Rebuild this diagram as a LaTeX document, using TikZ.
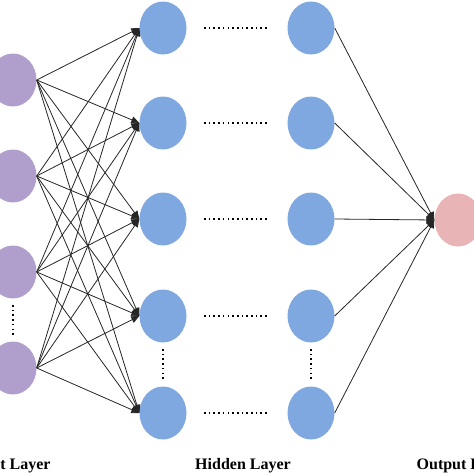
\documentclass[tikz,border=0pt]{standalone}
\usepackage{fontspec}
\setmainfont{Liberation Serif}
\usetikzlibrary{shapes.geometric,arrows.meta}
\definecolor{inpc}{RGB}{176,158,204}
\definecolor{hidc}{RGB}{128,168,224}
\definecolor{outc}{RGB}{232,180,182}
\tikzset{
  neuron/.style={ellipse,draw=none,minimum width=47pt,minimum height=53pt,inner sep=0pt},
  inneuron/.style={neuron,fill=inpc},
  hidneuron/.style={neuron,fill=hidc},
  outneuron/.style={neuron,fill=outc},
  link/.style={draw=black!85,line width=0.8pt},
  arrlink/.style={link,-{Triangle[length=8pt,width=7pt]}},
  dotline/.style={line width=1.6pt,line cap=butt,dash pattern=on 1.6pt off 3.1pt},
  lbl/.style={font=\bfseries\fontsize{16}{18}\selectfont,anchor=base,inner sep=0pt}
}
\begin{document}
\begin{tikzpicture}[x=1pt,y=-1pt]
\useasboundingbox (0,0) rectangle (474,474);
% input layer
\foreach \i/\y in {1/80,2/176,3/272,4/368}
  \node[inneuron] (i\i) at (13,\y) {};
% hidden layers
\foreach \j/\y in {1/28,2/123,3/219,4/316,5/413}{
  \node[hidneuron] (a\j) at (163,\y) {};
  \node[hidneuron] (b\j) at (311,\y) {};
}
% output
\node[outneuron] (o) at (458,220) {};
% connections input -> hidden
\foreach \i in {1,...,4}
  \foreach \j in {1,...,5}
    \draw[arrlink] (i\i.east) -- (a\j.west);
% connections hidden -> output
\foreach \j in {1,...,5}
  \draw[arrlink] (b\j.east) -- (o.west);
% horizontal dots
\foreach \j/\y in {1/28,2/123,3/219,4/316,5/413}{
  \coordinate (hs\j) at (204,\y);
  \coordinate (he\j) at (268,\y);
  \draw[dotline] (hs\j) -- (he\j);
}
% vertical dots
\coordinate (v1s) at (13,305); \coordinate (v1e) at (13,337);
\coordinate (v2s) at (163,349); \coordinate (v2e) at (163,381);
\coordinate (v3s) at (311,349); \coordinate (v3e) at (311,381);
\draw[dotline] (v1s) -- (v1e);
\draw[dotline] (v2s) -- (v2e);
\draw[dotline] (v3s) -- (v3e);
% labels
\node[lbl] (li) at (9,469) {Input Layer};
\node[lbl] (lh) at (243,469) {Hidden Layer};
\node[lbl] (lo) at (464,469) {Output Layer};
\end{tikzpicture}
\end{document}
